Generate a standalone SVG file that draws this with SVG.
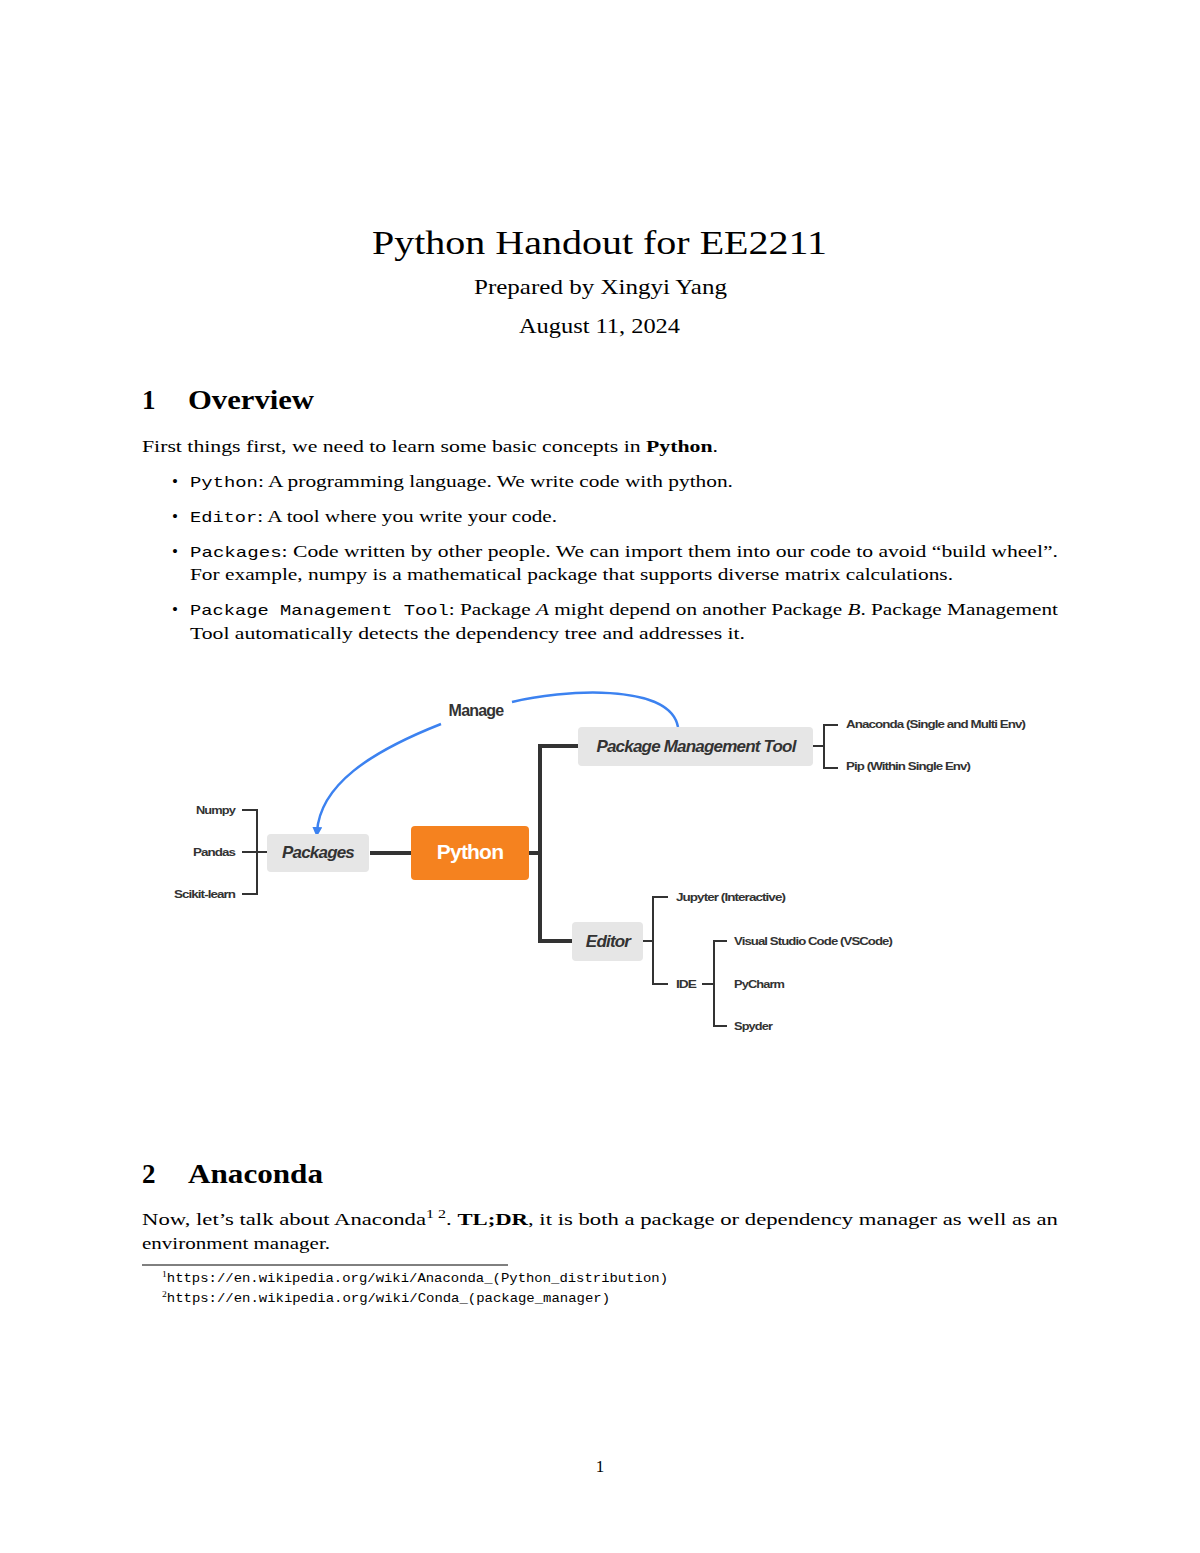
<svg xmlns="http://www.w3.org/2000/svg" width="1200" height="1553" viewBox="0 0 1200 1553">
<style>
.s{font-family:"Liberation Serif",serif;fill:#000}
.m{font-family:"Liberation Mono",monospace}
.b{font-size:17px}
.h{font-size:27px;font-weight:bold}
.d{font-family:"Liberation Sans",Arial,sans-serif;fill:#333;font-weight:bold;letter-spacing:-0.8px}
.l{font-size:11.5px}
.ln{fill:none;stroke:#333;stroke-width:2}
.tk{fill:none;stroke:#333;stroke-width:4}
.bx{fill:#e6e6e6}
.bl{fill:none;stroke:#3c82f0;stroke-width:2.5}
</style>
<defs><marker id="ar" viewBox="0 0 10 10" refX="5" refY="5" markerWidth="4" markerHeight="4" orient="auto"><path d="M0,0L10,5L0,10z" fill="#3c82f0"/></marker></defs>
<rect width="1200" height="1553" fill="#fff"/>
<g id="text">
<text class="s" x="372" y="254" font-size="33" textLength="455" lengthAdjust="spacingAndGlyphs">Python Handout for EE2211</text>
<text class="s" x="474" y="294" font-size="21" textLength="253" lengthAdjust="spacingAndGlyphs">Prepared by Xingyi Yang</text>
<text class="s" x="519" y="333" font-size="21" textLength="161" lengthAdjust="spacingAndGlyphs">August 11, 2024</text>
<text class="s h" x="142" y="409">1</text><text class="s h" x="188" y="409" textLength="126" lengthAdjust="spacingAndGlyphs">Overview</text>
<text class="s b" x="142" y="452" textLength="576" lengthAdjust="spacingAndGlyphs">First things first, we need to learn some basic concepts in <tspan font-weight="bold">Python</tspan>.</text>
<text class="s b" x="172" y="487">•</text><text class="s b" x="190" y="487" textLength="543" lengthAdjust="spacingAndGlyphs"><tspan class="m" font-size="15">Python</tspan>: A programming language. We write code with python.</text>
<text class="s b" x="172" y="522">•</text><text class="s b" x="190" y="522" textLength="367" lengthAdjust="spacingAndGlyphs"><tspan class="m" font-size="15">Editor</tspan>: A tool where you write your code.</text>
<text class="s b" x="172" y="557">•</text><text class="s b" x="190" y="557" textLength="868" lengthAdjust="spacingAndGlyphs"><tspan class="m" font-size="15">Packages</tspan>: Code written by other people. We can import them into our code to avoid “build wheel”.</text>
<text class="s b" x="190" y="580" textLength="763" lengthAdjust="spacingAndGlyphs">For example, numpy is a mathematical package that supports diverse matrix calculations.</text>
<text class="s b" x="172" y="615">•</text><text class="s b" x="190" y="615" textLength="868" lengthAdjust="spacingAndGlyphs"><tspan class="m" font-size="15">Package Management Tool</tspan>: Package <tspan font-style="italic">A</tspan> might depend on another Package <tspan font-style="italic">B</tspan>. Package Management</text>
<text class="s b" x="190" y="639" textLength="555" lengthAdjust="spacingAndGlyphs">Tool automatically detects the dependency tree and addresses it.</text>
<text class="s h" x="142" y="1183">2</text><text class="s h" x="188" y="1183" textLength="135" lengthAdjust="spacingAndGlyphs">Anaconda</text>
<text class="s b" x="142" y="1225" textLength="916" lengthAdjust="spacingAndGlyphs">Now, let’s talk about Anaconda<tspan font-size="12" dy="-7">1 2</tspan><tspan dy="7">. </tspan><tspan font-weight="bold">TL;DR</tspan>, it is both a package or dependency manager as well as an</text>
<text class="s b" x="142" y="1249" textLength="188" lengthAdjust="spacingAndGlyphs">environment manager.</text>
<line x1="142" y1="1265" x2="508" y2="1265" stroke="#000" stroke-width="1"/>
<text class="s" x="162" y="1282" font-size="13" textLength="506" lengthAdjust="spacingAndGlyphs"><tspan font-size="9" dy="-5">1</tspan><tspan class="m" dy="5">https://en.wikipedia.org/wiki/Anaconda_(Python_distribution)</tspan></text>
<text class="s" x="162" y="1302" font-size="13" textLength="448" lengthAdjust="spacingAndGlyphs"><tspan font-size="9" dy="-5">2</tspan><tspan class="m" dy="5">https://en.wikipedia.org/wiki/Conda_(package_manager)</tspan></text>
<text class="s" x="600" y="1472" font-size="17" text-anchor="middle">1</text>
</g>
<g id="connectors">
<path class="tk" d="M370,853H411M529,853H540M578,746H540V941H572"/>
<path class="ln" d="M813,746H824M838,725H824V768H838"/>
<path class="ln" d="M267,852H257M242,810H257V894H242M242,852H257"/>
<path class="ln" d="M643,941H653M668,897H653V984H668"/>
<path class="ln" d="M702,984H714M727,941H714V1026H727"/>
<path class="bl" d="M441,724C370,752 320,785 317,832" marker-end="url(#ar)"/>
<path class="bl" d="M512,702C560,690 670,682 678,727"/>
</g>
<g id="python"><rect x="411" y="826" width="118" height="54" rx="4" fill="#f5821f"/><text x="470" y="859" class="d" font-size="21" style="fill:#fff" text-anchor="middle">Python</text></g>
<g id="packages"><rect class="bx" x="267" y="834" width="102" height="38" rx="4"/><text x="318" y="858" class="d" font-size="17" font-style="italic" text-anchor="middle">Packages</text></g>
<g id="pmt"><rect class="bx" x="578" y="727" width="235" height="39" rx="4"/><text x="696" y="752" class="d" font-size="17" font-style="italic" text-anchor="middle">Package Management Tool</text></g>
<g id="editor"><rect class="bx" x="572" y="922" width="71" height="39" rx="4"/><text x="608" y="947" class="d" font-size="17" font-style="italic" text-anchor="middle">Editor</text></g>
<g id="manage"><text x="476" y="716" class="d" font-size="16" text-anchor="middle">Manage</text></g>
<g id="leaves">
<text class="d l" x="846" y="728" textLength="179" lengthAdjust="spacingAndGlyphs">Anaconda (Single and Multi Env)</text>
<text class="d l" x="846" y="770" textLength="124" lengthAdjust="spacingAndGlyphs">Pip (Within Single Env)</text>
<text class="d l" x="196" y="814" textLength="39" lengthAdjust="spacingAndGlyphs">Numpy</text>
<text class="d l" x="193" y="856" textLength="42" lengthAdjust="spacingAndGlyphs">Pandas</text>
<text class="d l" x="174" y="898" textLength="61" lengthAdjust="spacingAndGlyphs">Scikit-learn</text>
<text class="d l" x="676" y="901" textLength="109" lengthAdjust="spacingAndGlyphs">Jupyter (Interactive)</text>
<text class="d l" x="676" y="988" textLength="20" lengthAdjust="spacingAndGlyphs">IDE</text>
<text class="d l" x="734" y="945" textLength="158" lengthAdjust="spacingAndGlyphs">Visual Studio Code (VSCode)</text>
<text class="d l" x="734" y="988" textLength="50" lengthAdjust="spacingAndGlyphs">PyCharm</text>
<text class="d l" x="734" y="1030" textLength="38" lengthAdjust="spacingAndGlyphs">Spyder</text>
</g>
</svg>
